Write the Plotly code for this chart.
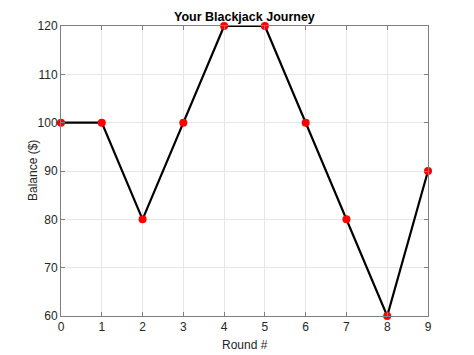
import plotly.graph_objects as go

rounds = [0, 1, 2, 3, 4, 5, 6, 7, 8, 9]
balance = [100, 100, 80, 100, 120, 120, 100, 80, 60, 90]
x_ticks = [0, 1, 2, 3, 4, 5, 6, 7, 8, 9]
y_ticks = [60, 70, 80, 90, 100, 110, 120]

FONT = "Liberation Sans, Arial"

fig = go.Figure()
fig.add_trace(go.Scatter(
    x=rounds, y=balance, mode="lines+markers",
    line=dict(color="black", width=2.2),
    marker=dict(color="#ff0000", size=8, line=dict(width=0)),
    cliponaxis=False,
))

axis_common = dict(
    showgrid=True, gridcolor="#e6e6e6", gridwidth=1,
    showline=True, linecolor="#7f7f7f", linewidth=1, mirror="allticks",
    ticks="inside", ticklen=4, tickcolor="#7f7f7f",
    tickfont=dict(family=FONT, size=12, color="#262626"),
    zeroline=False,
)

fig.update_layout(
    width=474, height=355,
    margin=dict(l=61, r=46, t=26, b=39),
    paper_bgcolor="white", plot_bgcolor="white",
    showlegend=False,
    xaxis=dict(range=[0, 9], tickvals=x_ticks, **axis_common),
    yaxis=dict(range=[60, 120], tickvals=y_ticks, **axis_common),
    annotations=[
        dict(text="<b>Your Blackjack Journey</b>", x=0.5, xref="paper",
             y=17, yref="paper", showarrow=False, xanchor="center", yanchor="middle",
             font=dict(family=FONT, size=12.5, color="black")),
        dict(text="Round #", x=0.5, xref="paper", y=0, yref="paper",
             yshift=-29, showarrow=False, xanchor="center", yanchor="middle",
             font=dict(family=FONT, size=12, color="#262626")),
        dict(text="Balance ($)", x=0, xref="paper", y=0.5, yref="paper",
             xshift=-28, textangle=-90, showarrow=False, xanchor="center", yanchor="middle",
             font=dict(family=FONT, size=12, color="#262626")),
    ],
)
# place title via pixel shift relative to top of plot area
fig.layout.annotations[0].update(y=1, yshift=9)

fig.write_html("out.html")
